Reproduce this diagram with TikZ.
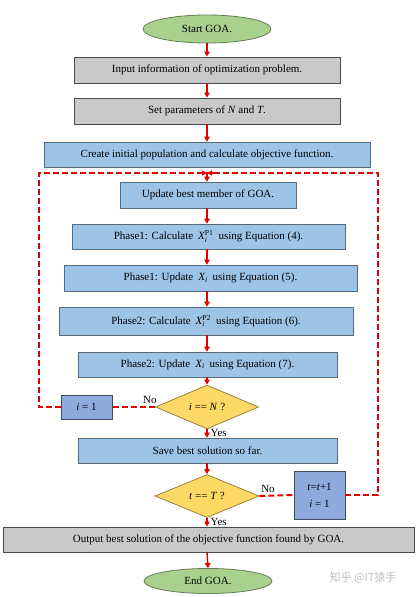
\documentclass[tikz,border=0pt]{standalone}
\usepackage{fontspec}
\setmainfont{Liberation Serif}
\newfontfamily\cjk{Noto Sans CJK SC}
\usetikzlibrary{shapes.geometric,arrows.meta}
\definecolor{boxgray}{HTML}{C9C9C9}
\definecolor{boxblue}{HTML}{9DC3E6}
\definecolor{boxblue2}{HTML}{8FAADC}
\definecolor{dgold}{HTML}{FFD966}
\definecolor{egreen}{HTML}{A9D18E}
\definecolor{flowred}{HTML}{E00000}
\newcommand{\vX}{\mathit{X}}
\newcommand{\vi}{\mathit{i}}
\begin{document}
\begin{tikzpicture}[x=1pt,y=-1pt,
  txt/.style={font=\fontsize{11}{13}\selectfont, inner sep=0pt},
  graybox/.style={txt, draw=black!70, fill=boxgray, line width=0.9pt},
  bluebox/.style={txt, draw=black!45!boxblue, fill=boxblue, line width=0.6pt},
  darkbox/.style={txt, draw=black!55!boxblue2, fill=boxblue2, line width=0.6pt, align=center},
  decision/.style={txt, diamond, draw=black!40!dgold, fill=dgold, line width=0.8pt},
  terminal/.style={txt, ellipse, draw=black!40!egreen, fill=egreen, line width=0.8pt},
  arr/.style={draw=flowred, line width=1.4pt, -{Triangle[length=5pt,width=5.5pt]}},
  loopline/.style={draw=flowred, line width=2pt, dash pattern=on 6pt off 3pt},
  lbl/.style={font=\fontsize{11}{13}\selectfont, inner sep=1pt}]
\useasboundingbox (0,0) rectangle (416,597);
\fill[white] (0,0) rectangle (416,597);
\coordinate (J) at (207,173);
\coordinate (LL) at (39,407);
\coordinate (LT) at (39,173);
\coordinate (RT) at (378,173);
\coordinate (RB) at (378,495);

\node[terminal, minimum width=128, minimum height=28] (start) at (207,29) {Start GOA.};
\node[graybox, minimum width=266, minimum height=26] (b1) at (207,70) {Input information of optimization problem.};
\node[graybox, minimum width=266, minimum height=26] (b2) at (207,111) {Set parameters of \textit{N} and \textit{T}.};
\node[bluebox, minimum width=326, minimum height=25] (b3) at (207,154.5) {Create initial population and calculate objective function.};
\node[bluebox, minimum width=176, minimum height=26] (upd) at (208,195) {Update best member of GOA.};
\node[bluebox, minimum width=273, minimum height=25] (p1c) at (208.5,236.5) {Phase1: Calculate\hspace{5pt}$\vX_{\vi}^{\mathrm{P1}}$\hspace{5pt}using Equation (4).};
\node[bluebox, minimum width=293, minimum height=26] (p1u) at (210.5,278) {Phase1: Update\hspace{5pt}$\vX_{\vi}$\hspace{5pt}using Equation (5).};
\node[bluebox, minimum width=294, minimum height=28] (p2c) at (206,321) {Phase2: Calculate\hspace{5pt}$\vX_{\vi}^{\mathrm{P2}}$\hspace{5pt}using Equation (6).};
\node[bluebox, minimum width=259, minimum height=25] (p2u) at (207.5,364.5) {Phase2: Update\hspace{5pt}$\vX_{\vi}$\hspace{5pt}using Equation (7).};
\node[decision, minimum width=103, minimum height=30] (dN) at (207,407) {\textit{i} == \textit{N} ?};
\node[darkbox, minimum width=51, minimum height=24] (i1) at (86.5,407) {\textit{i} = 1};
\node[bluebox, minimum width=259, minimum height=25] (save) at (207.5,450.5) {Save best solution so far.};
\node[decision, minimum width=104, minimum height=30] (dT) at (207,496) {\textit{t} == \textit{T} ?};
\node[darkbox, minimum width=51, minimum height=48] (tb) at (319.5,495) {\textit{t}=\textit{t}+1\\[4pt]\textit{i} = 1};
\node[graybox, minimum width=411, minimum height=25] (out) at (208.5,539.5) {Output best solution of the objective function found by GOA.};
\node[terminal, minimum width=128, minimum height=25] (end) at (208,581) {End GOA.};
\node[font=\cjk\fontsize{11}{13}\selectfont, text=black!25, inner sep=0pt] (wm) at (363,578) {知乎 @IT猿手};

\draw[arr] (start.south -| J) -- (b1.north -| J);
\draw[arr] (b1.south -| J) -- (b2.north -| J);
\draw[arr] (b2.south -| J) -- (b3.north -| J);
\draw[arr] (J) -- (upd.north -| J);
\draw[arr] (upd.south -| J) -- (p1c.north -| J);
\draw[arr] (p1c.south -| J) -- (p1u.north -| J);
\draw[arr] (p1u.south -| J) -- (p2c.north -| J);
\draw[arr] (p2c.south -| J) -- (p2u.north -| J);
\draw[arr] (p2u.south -| J) -- (dN.north);
\draw[arr] (dN.south) -- node[lbl, right, pos=0.45, xshift=2pt] {Yes} (save.north -| J);
\draw[arr] (save.south -| J) -- (dT.north);
\draw[arr] (dT.south) -- node[lbl, right, pos=0.45, xshift=2pt] {Yes} (out.north -| J);
\draw[arr] (out.south -| J) -- (end.north);

\draw[loopline] (dN.west) -- node[lbl, above, pos=0.12, yshift=1pt] {No} (i1.east);
\draw[loopline] (i1.west) -- (LL) -- (LT) -- (J);
\draw[loopline] (dT.east) -- node[lbl, above, pos=0.25, yshift=1pt] {No} (tb.west);
\draw[loopline] (tb.east) -- (RB) -- (RT) -- (J);
\draw[draw=flowred, line width=1.2pt, -{Triangle[length=5pt,width=5pt]}] ([xshift=-7pt]J) -- (J);
\draw[draw=flowred, line width=1.2pt, -{Triangle[length=5pt,width=5pt]}] ([xshift=7pt]J) -- (J);
\end{tikzpicture}
\end{document}
